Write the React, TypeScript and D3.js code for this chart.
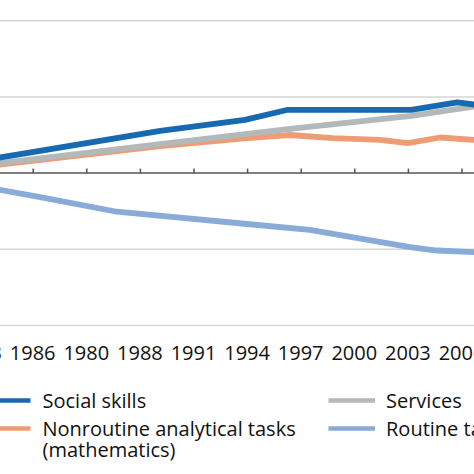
import * as d3 from 'd3';
import React, { useEffect, useRef } from 'react';

// x positions are in tick units (0 = first full label), values in percentage points
const tickLabels = ["1983", "1986", "1980", "1988", "1991", "1994", "1997", "2000", "2003", "2006"];
const tickIndex = [-1, 0, 1, 2, 3, 4, 5, 6, 7, 8];
const gridValues = [-20, -10, 10, 20];

const socialPos = [-1, 2.38, 3.96, 4.76, 7.06, 7.92, 8.6];
const socialVal = [1.6, 5.55, 6.99, 8.31, 8.31, 9.27, 8.7];

const servicesPos = [-1, 2.38, 4.76, 7.06, 8.6];
const servicesVal = [0.98, 3.8, 5.77, 7.5, 9.13];

const mathPos = [-1, 2.38, 4.0, 4.8, 5.6, 6.48, 7.0, 7.6, 8.23, 8.6];
const mathVal = [0.8, 3.55, 4.6, 5.0, 4.59, 4.37, 3.94, 4.67, 4.37, 4.3];

const routinePos = [-1, 0.14, 1.57, 4.0, 5.17, 7.04, 7.54, 8.6];
const routineVal = [-1.7, -3.15, -5.07, -6.68, -7.44, -9.71, -10.16, -10.5];

interface Series {
  pos: number[];
  val: number[];
  color: string;
}

// drawing order: orange sits under grey, blue on top
const series: Series[] = [
  { pos: mathPos, val: mathVal, color: "#ee9c73" },
  { pos: routinePos, val: routineVal, color: "#88abd8" },
  { pos: servicesPos, val: servicesVal, color: "#b3b8bb" },
  { pos: socialPos, val: socialVal, color: "#1769b0" },
];

const legendItems = [
  { label: ["Social skills"], color: "#1769b0", col: 0, row: 0 },
  { label: ["Nonroutine analytical tasks", "(mathematics)"], color: "#ee9c73", col: 0, row: 1 },
  { label: ["Services"], color: "#b3b8bb", col: 1, row: 0 },
  { label: ["Routine tasks"], color: "#88abd8", col: 1, row: 1 },
];

const WIDTH = 474;
const HEIGHT = 474;
const FONT = "'Open Sans', sans-serif";

const App: React.FC = () => {
  const svgRef = useRef<SVGSVGElement>(null);

  useEffect(() => {
    if (!svgRef.current) { return; }
    const svg = d3.select(svgRef.current);
    svg.selectAll("*").remove();

    const xScale = d3.scaleLinear().domain([0, 8]).range([32.7, 461.5]);
    const yScale = d3.scaleLinear().domain([-20, 20]).range([325.5, 20.7]);

    // Horizontal grid lines
    svg.append("g")
      .selectAll("line")
      .data(gridValues)
      .enter().append("line")
      .attr("x1", 0)
      .attr("x2", WIDTH)
      .attr("y1", v => yScale(v))
      .attr("y2", v => yScale(v))
      .attr("stroke", "#d6d6d6")
      .attr("stroke-width", 1.5);

    // Zero axis with upward ticks
    const axis = svg.append("g")
      .attr("transform", `translate(0,${yScale(0)})`)
      .call(d3.axisBottom(xScale)
        .tickValues(tickIndex)
        .tickSize(-4.5)
        .tickFormat(() => "")
      );
    axis.select(".domain")
      .attr("d", `M0,0H${WIDTH}`)
      .attr("stroke", "#555")
      .attr("stroke-width", 1.5);
    axis.selectAll(".tick line")
      .attr("stroke", "#555")
      .attr("stroke-width", 1.5);

    // Year labels
    svg.append("g")
      .selectAll("text")
      .data(tickIndex)
      .enter().append("text")
      .attr("x", i => xScale(i))
      .attr("y", 360)
      .attr("text-anchor", "middle")
      .style("font-family", FONT)
      .style("font-size", "20px")
      .attr("fill", "#111")
      .text((_, i) => tickLabels[i]);

    const line = d3.line<[number, number]>()
      .x(dp => xScale(dp[0]))
      .y(dp => yScale(dp[1]));

    series.forEach(s => {
      const points = s.pos.map((p, i) => [p, s.val[i]] as [number, number]);
      svg.append("path")
        .datum(points)
        .attr("fill", "none")
        .attr("stroke", s.color)
        .attr("stroke-width", 5.8)
        .attr("stroke-linejoin", "round")
        .attr("d", line);
    });

    // Legend (multi-line labels as tspans of one text)
    const colX = [{ x0: 0, x1: 30.5, tx: 42.5 }, { x0: 328.5, x1: 375, tx: 386 }];
    const rowY = [400.5, 428.5];
    const legend = svg.append("g");
    legendItems.forEach(item => {
      const c = colX[item.col];
      const y = rowY[item.row];
      legend.append("line")
        .attr("x1", c.x0)
        .attr("x2", c.x1)
        .attr("y1", y)
        .attr("y2", y)
        .attr("stroke", item.color)
        .attr("stroke-width", 4.5);
      const label = legend.append("text")
        .attr("x", c.tx)
        .attr("y", y + 7)
        .style("font-family", FONT)
        .style("font-size", "20px")
        .attr("fill", "#111");
      item.label.forEach((txt, k) => {
        label.append("tspan")
          .attr("x", c.tx)
          .attr("dy", k === 0 ? 0 : 21)
          .text(txt);
      });
    });
  }, []);

  return (
    <svg
      ref={svgRef}
      width={WIDTH}
      height={HEIGHT}
      style={{ position: "absolute", left: 0, top: 0, background: "#fff" }}
    />
  );
};

export default App;
